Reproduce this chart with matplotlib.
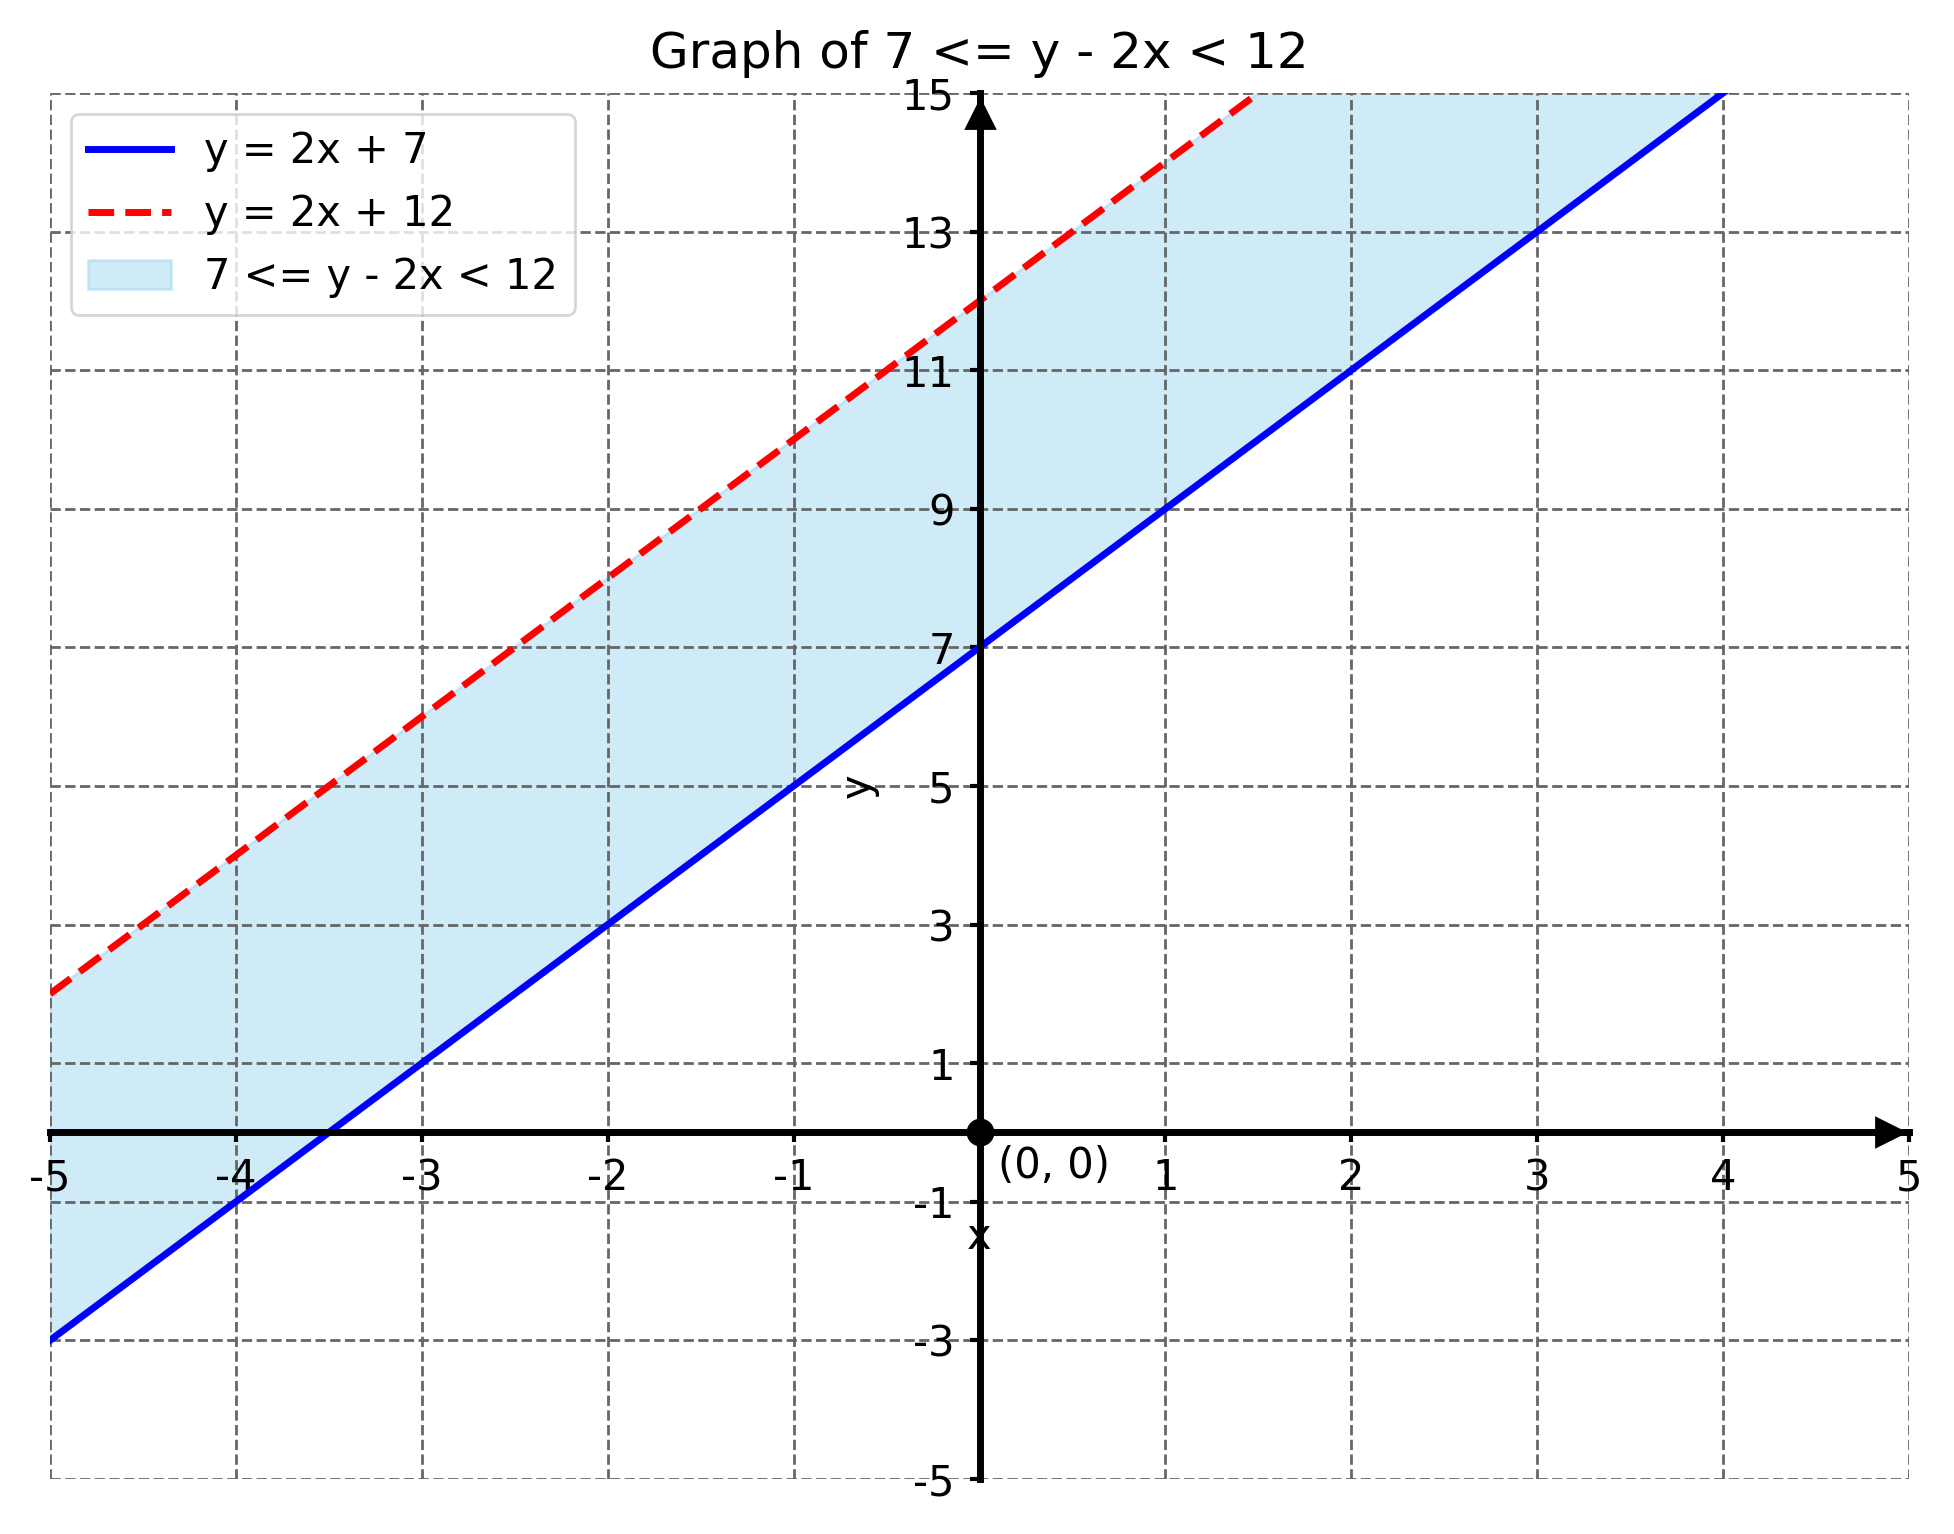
import matplotlib
matplotlib.use('Agg')
import matplotlib.pyplot as plt
import matplotlib.transforms as mtransforms

plt.rcParams['axes.unicode_minus'] = False

# Data
x_vals = [-5, 5]
lower_vals = [-3, 17]   # y = 2x + 7
upper_vals = [2, 22]    # y = 2x + 12
origin = (0, 0)

x_ticks = [-5, -4, -3, -2, -1, 1, 2, 3, 4, 5]
y_ticks = list(range(-5, 16, 2))
x_lim = (-5, 5)
y_lim = (-5, 15)

TITLE = 'Graph of 7 <= y - 2x < 12'
LOWER_LABEL = 'y = 2x + 7'
UPPER_LABEL = 'y = 2x + 12'
FILL_LABEL = '7 <= y - 2x < 12'


def main():
    fig = plt.figure(figsize=(9.77, 7.67), dpi=200)
    ax = fig.add_axes([0.0256, 0.0359, 0.9514, 0.9035])

    ax.plot(x_vals, lower_vals, color='blue', linewidth=2.5, label=LOWER_LABEL)
    ax.plot(x_vals, upper_vals, color='red', linewidth=2.5, linestyle='--', label=UPPER_LABEL)
    ax.fill_between(x_vals, lower_vals, upper_vals, color='skyblue', alpha=0.4, label=FILL_LABEL)

    ax.set_xlim(*x_lim)
    ax.set_ylim(*y_lim)
    ax.set_xticks(x_ticks)
    ax.set_yticks(y_ticks)
    ax.tick_params(labelsize=15, width=1.5, pad=5.5)

    # axes through the origin
    ax.spines['left'].set_position('zero')
    ax.spines['bottom'].set_position('zero')
    ax.spines['right'].set_visible(False)
    ax.spines['top'].set_visible(False)
    ax.spines['left'].set_linewidth(2.5)
    ax.spines['bottom'].set_linewidth(2.5)

    # arrow heads at the ends of the axes
    right_tr = mtransforms.offset_copy(ax.get_yaxis_transform(), fig=fig, x=-7, y=0, units='points')
    top_tr = mtransforms.offset_copy(ax.get_xaxis_transform(), fig=fig, x=0, y=-7.5, units='points')
    ax.plot(1, 0, '>k', ms=10, transform=right_tr, clip_on=False)
    ax.plot(0, 1, '^k', ms=10, transform=top_tr, clip_on=False)

    ax.plot(*origin, 'ko', ms=9, clip_on=False, zorder=5)
    ax.text(origin[0] + 0.1, origin[1] - 0.48, '(0, 0)', fontsize=15, va='center', ha='left')

    ax.grid(True, linestyle='--', linewidth=1, color='#666666')

    ax.set_xlabel('x', fontsize=15, labelpad=6)
    ax.set_ylabel('y', fontsize=15, labelpad=8)
    ax.set_title(TITLE, fontsize=18, pad=9)
    ax.legend(loc='upper left', fontsize=15)

    fig.savefig('out.png', dpi=200)


if __name__ == '__main__':
    main()
